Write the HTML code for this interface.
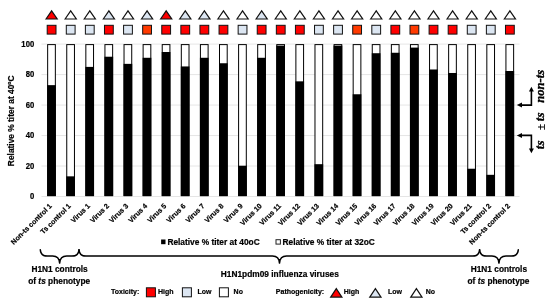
<!DOCTYPE html>
<html><head><meta charset="utf-8"><title>Relative % titer chart</title>
<style>html,body{margin:0;padding:0;background:#fff}svg{display:block}</style></head><body>
<svg width="550" height="304" viewBox="0 0 550 304">
<rect width="550" height="304" fill="#fff"/>
<line x1="41.5" x2="519.5" y1="196.50" y2="196.50" stroke="#d4d4d4" stroke-width="0.6"/>
<text transform="translate(34.2,199.25) scale(1,1.13)" font-size="7.7" text-anchor="end" font-family="Liberation Sans, Arial, sans-serif" font-weight="bold" stroke="#000" stroke-width="0.2" fill="#000">0</text>
<line x1="41.5" x2="519.5" y1="166.02" y2="166.02" stroke="#d4d4d4" stroke-width="0.6"/>
<text transform="translate(34.2,168.77) scale(1,1.13)" font-size="7.7" text-anchor="end" font-family="Liberation Sans, Arial, sans-serif" font-weight="bold" stroke="#000" stroke-width="0.2" fill="#000">20</text>
<line x1="41.5" x2="519.5" y1="135.54" y2="135.54" stroke="#d4d4d4" stroke-width="0.6"/>
<text transform="translate(34.2,138.29) scale(1,1.13)" font-size="7.7" text-anchor="end" font-family="Liberation Sans, Arial, sans-serif" font-weight="bold" stroke="#000" stroke-width="0.2" fill="#000">40</text>
<line x1="41.5" x2="519.5" y1="105.06" y2="105.06" stroke="#d4d4d4" stroke-width="0.6"/>
<text transform="translate(34.2,107.81) scale(1,1.13)" font-size="7.7" text-anchor="end" font-family="Liberation Sans, Arial, sans-serif" font-weight="bold" stroke="#000" stroke-width="0.2" fill="#000">60</text>
<line x1="41.5" x2="519.5" y1="74.58" y2="74.58" stroke="#d4d4d4" stroke-width="0.6"/>
<text transform="translate(34.2,77.33) scale(1,1.13)" font-size="7.7" text-anchor="end" font-family="Liberation Sans, Arial, sans-serif" font-weight="bold" stroke="#000" stroke-width="0.2" fill="#000">80</text>
<line x1="41.5" x2="519.5" y1="44.10" y2="44.10" stroke="#d4d4d4" stroke-width="0.6"/>
<text transform="translate(34.2,46.85) scale(1,1.13)" font-size="7.7" text-anchor="end" font-family="Liberation Sans, Arial, sans-serif" font-weight="bold" stroke="#000" stroke-width="0.2" fill="#000">100</text>
<rect x="47.65" y="44.60" width="7.70" height="151.00" fill="#fff" stroke="#000" stroke-width="1"/>
<rect x="47.15" y="85.14" width="8.70" height="110.96" fill="#000"/>
<rect x="66.75" y="44.60" width="7.70" height="151.00" fill="#fff" stroke="#000" stroke-width="1"/>
<rect x="66.25" y="176.34" width="8.70" height="19.76" fill="#000"/>
<rect x="85.84" y="44.60" width="7.70" height="151.00" fill="#fff" stroke="#000" stroke-width="1"/>
<rect x="85.34" y="66.90" width="8.70" height="129.20" fill="#000"/>
<rect x="104.94" y="44.60" width="7.70" height="151.00" fill="#fff" stroke="#000" stroke-width="1"/>
<rect x="104.44" y="56.72" width="8.70" height="139.38" fill="#000"/>
<rect x="124.03" y="44.60" width="7.70" height="151.00" fill="#fff" stroke="#000" stroke-width="1"/>
<rect x="123.53" y="63.86" width="8.70" height="132.24" fill="#000"/>
<rect x="143.12" y="44.60" width="7.70" height="151.00" fill="#fff" stroke="#000" stroke-width="1"/>
<rect x="142.62" y="57.78" width="8.70" height="138.32" fill="#000"/>
<rect x="162.22" y="44.60" width="7.70" height="151.00" fill="#fff" stroke="#000" stroke-width="1"/>
<rect x="161.72" y="52.00" width="8.70" height="144.10" fill="#000"/>
<rect x="181.31" y="44.60" width="7.70" height="151.00" fill="#fff" stroke="#000" stroke-width="1"/>
<rect x="180.81" y="66.44" width="8.70" height="129.66" fill="#000"/>
<rect x="200.41" y="44.60" width="7.70" height="151.00" fill="#fff" stroke="#000" stroke-width="1"/>
<rect x="199.91" y="57.78" width="8.70" height="138.32" fill="#000"/>
<rect x="219.50" y="44.60" width="7.70" height="151.00" fill="#fff" stroke="#000" stroke-width="1"/>
<rect x="219.00" y="63.25" width="8.70" height="132.85" fill="#000"/>
<rect x="238.60" y="44.60" width="7.70" height="151.00" fill="#fff" stroke="#000" stroke-width="1"/>
<rect x="238.10" y="165.70" width="8.70" height="30.40" fill="#000"/>
<rect x="257.69" y="44.60" width="7.70" height="151.00" fill="#fff" stroke="#000" stroke-width="1"/>
<rect x="257.19" y="57.78" width="8.70" height="138.32" fill="#000"/>
<rect x="276.79" y="44.60" width="7.70" height="151.00" fill="#fff" stroke="#000" stroke-width="1"/>
<rect x="276.29" y="45.62" width="8.70" height="150.48" fill="#000"/>
<rect x="295.88" y="44.60" width="7.70" height="151.00" fill="#fff" stroke="#000" stroke-width="1"/>
<rect x="295.38" y="81.34" width="8.70" height="114.76" fill="#000"/>
<rect x="314.98" y="44.60" width="7.70" height="151.00" fill="#fff" stroke="#000" stroke-width="1"/>
<rect x="314.48" y="164.18" width="8.70" height="31.92" fill="#000"/>
<rect x="334.07" y="44.60" width="7.70" height="151.00" fill="#fff" stroke="#000" stroke-width="1"/>
<rect x="333.57" y="45.62" width="8.70" height="150.48" fill="#000"/>
<rect x="353.17" y="44.60" width="7.70" height="151.00" fill="#fff" stroke="#000" stroke-width="1"/>
<rect x="352.67" y="94.26" width="8.70" height="101.84" fill="#000"/>
<rect x="372.26" y="44.60" width="7.70" height="151.00" fill="#fff" stroke="#000" stroke-width="1"/>
<rect x="371.76" y="53.22" width="8.70" height="142.88" fill="#000"/>
<rect x="391.36" y="44.60" width="7.70" height="151.00" fill="#fff" stroke="#000" stroke-width="1"/>
<rect x="390.86" y="52.76" width="8.70" height="143.34" fill="#000"/>
<rect x="410.45" y="44.60" width="7.70" height="151.00" fill="#fff" stroke="#000" stroke-width="1"/>
<rect x="409.95" y="47.60" width="8.70" height="148.50" fill="#000"/>
<rect x="429.55" y="44.60" width="7.70" height="151.00" fill="#fff" stroke="#000" stroke-width="1"/>
<rect x="429.05" y="69.48" width="8.70" height="126.62" fill="#000"/>
<rect x="448.64" y="44.60" width="7.70" height="151.00" fill="#fff" stroke="#000" stroke-width="1"/>
<rect x="448.14" y="72.98" width="8.70" height="123.12" fill="#000"/>
<rect x="467.74" y="44.60" width="7.70" height="151.00" fill="#fff" stroke="#000" stroke-width="1"/>
<rect x="467.24" y="168.74" width="8.70" height="27.36" fill="#000"/>
<rect x="486.83" y="44.60" width="7.70" height="151.00" fill="#fff" stroke="#000" stroke-width="1"/>
<rect x="486.33" y="174.82" width="8.70" height="21.28" fill="#000"/>
<rect x="505.93" y="44.60" width="7.70" height="151.00" fill="#fff" stroke="#000" stroke-width="1"/>
<rect x="505.43" y="71.00" width="8.70" height="125.10" fill="#000"/>
<rect x="47.20" y="25.3" width="8.8" height="8.8" fill="#ff0000" stroke="#111" stroke-width="1"/>
<path d="M46.00 19 L51.60 10.9 L57.20 19 Z" fill="#ff0000" stroke="#111" stroke-width="1.2" stroke-linejoin="miter"/>
<rect x="66.30" y="25.3" width="8.8" height="8.8" fill="#dce6f2" stroke="#111" stroke-width="1"/>
<path d="M65.09 19 L70.69 10.9 L76.30 19 Z" fill="#ffffff" stroke="#111" stroke-width="1.2" stroke-linejoin="miter"/>
<rect x="85.39" y="25.3" width="8.8" height="8.8" fill="#dce6f2" stroke="#111" stroke-width="1"/>
<path d="M84.19 19 L89.79 10.9 L95.39 19 Z" fill="#ffffff" stroke="#111" stroke-width="1.2" stroke-linejoin="miter"/>
<rect x="104.48" y="25.3" width="8.8" height="8.8" fill="#ff0000" stroke="#111" stroke-width="1"/>
<path d="M103.28 19 L108.88 10.9 L114.48 19 Z" fill="#dce6f2" stroke="#111" stroke-width="1.2" stroke-linejoin="miter"/>
<rect x="123.58" y="25.3" width="8.8" height="8.8" fill="#dce6f2" stroke="#111" stroke-width="1"/>
<path d="M122.38 19 L127.98 10.9 L133.58 19 Z" fill="#ffffff" stroke="#111" stroke-width="1.2" stroke-linejoin="miter"/>
<rect x="142.67" y="25.3" width="8.8" height="8.8" fill="#ff3a00" stroke="#111" stroke-width="1"/>
<path d="M141.47 19 L147.07 10.9 L152.67 19 Z" fill="#dce6f2" stroke="#111" stroke-width="1.2" stroke-linejoin="miter"/>
<rect x="161.77" y="25.3" width="8.8" height="8.8" fill="#ff0000" stroke="#111" stroke-width="1"/>
<path d="M160.57 19 L166.17 10.9 L171.77 19 Z" fill="#ff0000" stroke="#111" stroke-width="1.2" stroke-linejoin="miter"/>
<rect x="180.86" y="25.3" width="8.8" height="8.8" fill="#ff0000" stroke="#111" stroke-width="1"/>
<path d="M179.66 19 L185.26 10.9 L190.86 19 Z" fill="#dce6f2" stroke="#111" stroke-width="1.2" stroke-linejoin="miter"/>
<rect x="199.96" y="25.3" width="8.8" height="8.8" fill="#ff0000" stroke="#111" stroke-width="1"/>
<path d="M198.76 19 L204.36 10.9 L209.96 19 Z" fill="#dce6f2" stroke="#111" stroke-width="1.2" stroke-linejoin="miter"/>
<rect x="219.05" y="25.3" width="8.8" height="8.8" fill="#ff0000" stroke="#111" stroke-width="1"/>
<path d="M217.85 19 L223.45 10.9 L229.05 19 Z" fill="#ffffff" stroke="#111" stroke-width="1.2" stroke-linejoin="miter"/>
<rect x="238.15" y="25.3" width="8.8" height="8.8" fill="#dce6f2" stroke="#111" stroke-width="1"/>
<path d="M236.95 19 L242.55 10.9 L248.15 19 Z" fill="#ffffff" stroke="#111" stroke-width="1.2" stroke-linejoin="miter"/>
<rect x="257.24" y="25.3" width="8.8" height="8.8" fill="#ff0000" stroke="#111" stroke-width="1"/>
<path d="M256.04 19 L261.64 10.9 L267.24 19 Z" fill="#dce6f2" stroke="#111" stroke-width="1.2" stroke-linejoin="miter"/>
<rect x="276.34" y="25.3" width="8.8" height="8.8" fill="#ff0000" stroke="#111" stroke-width="1"/>
<path d="M275.14 19 L280.74 10.9 L286.34 19 Z" fill="#ffffff" stroke="#111" stroke-width="1.2" stroke-linejoin="miter"/>
<rect x="295.44" y="25.3" width="8.8" height="8.8" fill="#ff0000" stroke="#111" stroke-width="1"/>
<path d="M294.24 19 L299.84 10.9 L305.44 19 Z" fill="#ffffff" stroke="#111" stroke-width="1.2" stroke-linejoin="miter"/>
<rect x="314.53" y="25.3" width="8.8" height="8.8" fill="#dce6f2" stroke="#111" stroke-width="1"/>
<path d="M313.33 19 L318.93 10.9 L324.53 19 Z" fill="#ffffff" stroke="#111" stroke-width="1.2" stroke-linejoin="miter"/>
<rect x="333.62" y="25.3" width="8.8" height="8.8" fill="#dce6f2" stroke="#111" stroke-width="1"/>
<path d="M332.42 19 L338.02 10.9 L343.62 19 Z" fill="#ffffff" stroke="#111" stroke-width="1.2" stroke-linejoin="miter"/>
<rect x="352.72" y="25.3" width="8.8" height="8.8" fill="#ff3a00" stroke="#111" stroke-width="1"/>
<path d="M351.52 19 L357.12 10.9 L362.72 19 Z" fill="#ffffff" stroke="#111" stroke-width="1.2" stroke-linejoin="miter"/>
<rect x="371.81" y="25.3" width="8.8" height="8.8" fill="#dce6f2" stroke="#111" stroke-width="1"/>
<path d="M370.62 19 L376.22 10.9 L381.81 19 Z" fill="#ffffff" stroke="#111" stroke-width="1.2" stroke-linejoin="miter"/>
<rect x="390.91" y="25.3" width="8.8" height="8.8" fill="#ff0000" stroke="#111" stroke-width="1"/>
<path d="M389.71 19 L395.31 10.9 L400.91 19 Z" fill="#ffffff" stroke="#111" stroke-width="1.2" stroke-linejoin="miter"/>
<rect x="410.00" y="25.3" width="8.8" height="8.8" fill="#ff3a00" stroke="#111" stroke-width="1"/>
<path d="M408.80 19 L414.40 10.9 L420.00 19 Z" fill="#ffffff" stroke="#111" stroke-width="1.2" stroke-linejoin="miter"/>
<rect x="429.10" y="25.3" width="8.8" height="8.8" fill="#ff0000" stroke="#111" stroke-width="1"/>
<path d="M427.90 19 L433.50 10.9 L439.10 19 Z" fill="#ffffff" stroke="#111" stroke-width="1.2" stroke-linejoin="miter"/>
<rect x="448.19" y="25.3" width="8.8" height="8.8" fill="#ff0000" stroke="#111" stroke-width="1"/>
<path d="M447.00 19 L452.60 10.9 L458.19 19 Z" fill="#ffffff" stroke="#111" stroke-width="1.2" stroke-linejoin="miter"/>
<rect x="467.29" y="25.3" width="8.8" height="8.8" fill="#dce6f2" stroke="#111" stroke-width="1"/>
<path d="M466.09 19 L471.69 10.9 L477.29 19 Z" fill="#ffffff" stroke="#111" stroke-width="1.2" stroke-linejoin="miter"/>
<rect x="486.38" y="25.3" width="8.8" height="8.8" fill="#dce6f2" stroke="#111" stroke-width="1"/>
<path d="M485.18 19 L490.78 10.9 L496.38 19 Z" fill="#ffffff" stroke="#111" stroke-width="1.2" stroke-linejoin="miter"/>
<rect x="505.48" y="25.3" width="8.8" height="8.8" fill="#ff0000" stroke="#111" stroke-width="1"/>
<path d="M504.28 19 L509.88 10.9 L515.48 19 Z" fill="#ffffff" stroke="#111" stroke-width="1.2" stroke-linejoin="miter"/>
<text transform="translate(52.30,206.5) rotate(-45)" font-size="7.1" text-anchor="end" font-family="Liberation Sans, Arial, sans-serif" font-weight="bold" stroke="#000" stroke-width="0.2" fill="#000">Non-ts control 1</text>
<text transform="translate(71.39,206.5) rotate(-45)" font-size="7.1" text-anchor="end" font-family="Liberation Sans, Arial, sans-serif" font-weight="bold" stroke="#000" stroke-width="0.2" fill="#000">Ts control 1</text>
<text transform="translate(90.49,206.5) rotate(-45)" font-size="7.1" text-anchor="end" font-family="Liberation Sans, Arial, sans-serif" font-weight="bold" stroke="#000" stroke-width="0.2" fill="#000">Virus 1</text>
<text transform="translate(109.58,206.5) rotate(-45)" font-size="7.1" text-anchor="end" font-family="Liberation Sans, Arial, sans-serif" font-weight="bold" stroke="#000" stroke-width="0.2" fill="#000">Virus 2</text>
<text transform="translate(128.68,206.5) rotate(-45)" font-size="7.1" text-anchor="end" font-family="Liberation Sans, Arial, sans-serif" font-weight="bold" stroke="#000" stroke-width="0.2" fill="#000">Virus 3</text>
<text transform="translate(147.78,206.5) rotate(-45)" font-size="7.1" text-anchor="end" font-family="Liberation Sans, Arial, sans-serif" font-weight="bold" stroke="#000" stroke-width="0.2" fill="#000">Virus 4</text>
<text transform="translate(166.87,206.5) rotate(-45)" font-size="7.1" text-anchor="end" font-family="Liberation Sans, Arial, sans-serif" font-weight="bold" stroke="#000" stroke-width="0.2" fill="#000">Virus 5</text>
<text transform="translate(185.97,206.5) rotate(-45)" font-size="7.1" text-anchor="end" font-family="Liberation Sans, Arial, sans-serif" font-weight="bold" stroke="#000" stroke-width="0.2" fill="#000">Virus 6</text>
<text transform="translate(205.06,206.5) rotate(-45)" font-size="7.1" text-anchor="end" font-family="Liberation Sans, Arial, sans-serif" font-weight="bold" stroke="#000" stroke-width="0.2" fill="#000">Virus 7</text>
<text transform="translate(224.16,206.5) rotate(-45)" font-size="7.1" text-anchor="end" font-family="Liberation Sans, Arial, sans-serif" font-weight="bold" stroke="#000" stroke-width="0.2" fill="#000">Virus 8</text>
<text transform="translate(243.25,206.5) rotate(-45)" font-size="7.1" text-anchor="end" font-family="Liberation Sans, Arial, sans-serif" font-weight="bold" stroke="#000" stroke-width="0.2" fill="#000">Virus 9</text>
<text transform="translate(262.34,206.5) rotate(-45)" font-size="7.1" text-anchor="end" font-family="Liberation Sans, Arial, sans-serif" font-weight="bold" stroke="#000" stroke-width="0.2" fill="#000">Virus 10</text>
<text transform="translate(281.44,206.5) rotate(-45)" font-size="7.1" text-anchor="end" font-family="Liberation Sans, Arial, sans-serif" font-weight="bold" stroke="#000" stroke-width="0.2" fill="#000">Virus 11</text>
<text transform="translate(300.54,206.5) rotate(-45)" font-size="7.1" text-anchor="end" font-family="Liberation Sans, Arial, sans-serif" font-weight="bold" stroke="#000" stroke-width="0.2" fill="#000">Virus 12</text>
<text transform="translate(319.63,206.5) rotate(-45)" font-size="7.1" text-anchor="end" font-family="Liberation Sans, Arial, sans-serif" font-weight="bold" stroke="#000" stroke-width="0.2" fill="#000">Virus 13</text>
<text transform="translate(338.72,206.5) rotate(-45)" font-size="7.1" text-anchor="end" font-family="Liberation Sans, Arial, sans-serif" font-weight="bold" stroke="#000" stroke-width="0.2" fill="#000">Virus 14</text>
<text transform="translate(357.82,206.5) rotate(-45)" font-size="7.1" text-anchor="end" font-family="Liberation Sans, Arial, sans-serif" font-weight="bold" stroke="#000" stroke-width="0.2" fill="#000">Virus 15</text>
<text transform="translate(376.92,206.5) rotate(-45)" font-size="7.1" text-anchor="end" font-family="Liberation Sans, Arial, sans-serif" font-weight="bold" stroke="#000" stroke-width="0.2" fill="#000">Virus 16</text>
<text transform="translate(396.01,206.5) rotate(-45)" font-size="7.1" text-anchor="end" font-family="Liberation Sans, Arial, sans-serif" font-weight="bold" stroke="#000" stroke-width="0.2" fill="#000">Virus 17</text>
<text transform="translate(415.10,206.5) rotate(-45)" font-size="7.1" text-anchor="end" font-family="Liberation Sans, Arial, sans-serif" font-weight="bold" stroke="#000" stroke-width="0.2" fill="#000">Virus 18</text>
<text transform="translate(434.20,206.5) rotate(-45)" font-size="7.1" text-anchor="end" font-family="Liberation Sans, Arial, sans-serif" font-weight="bold" stroke="#000" stroke-width="0.2" fill="#000">Virus 19</text>
<text transform="translate(453.30,206.5) rotate(-45)" font-size="7.1" text-anchor="end" font-family="Liberation Sans, Arial, sans-serif" font-weight="bold" stroke="#000" stroke-width="0.2" fill="#000">Virus 20</text>
<text transform="translate(472.39,206.5) rotate(-45)" font-size="7.1" text-anchor="end" font-family="Liberation Sans, Arial, sans-serif" font-weight="bold" stroke="#000" stroke-width="0.2" fill="#000">Virus 21</text>
<text transform="translate(491.48,206.5) rotate(-45)" font-size="7.1" text-anchor="end" font-family="Liberation Sans, Arial, sans-serif" font-weight="bold" stroke="#000" stroke-width="0.2" fill="#000">Ts control 2</text>
<text transform="translate(510.58,206.5) rotate(-45)" font-size="7.1" text-anchor="end" font-family="Liberation Sans, Arial, sans-serif" font-weight="bold" stroke="#000" stroke-width="0.2" fill="#000">Non-ts control 2</text>
<text transform="translate(14.4,120.8) rotate(-90)" font-size="8.4" text-anchor="middle" font-family="Liberation Sans, Arial, sans-serif" font-weight="bold" stroke="#000" stroke-width="0.2" fill="#000">Relative % titer at 40<tspan font-size="5.2" dy="-3">o</tspan><tspan dy="3">C</tspan></text>
<rect x="161.1" y="239.5" width="4.4" height="4.7" fill="#000"/>
<text x="167.4" y="244.5" font-size="8.35" font-family="Liberation Sans, Arial, sans-serif" font-weight="bold" stroke="#000" stroke-width="0.2" fill="#000">Relative % titer at 40oC</text>
<rect x="276.0" y="239.7" width="4.4" height="4.4" fill="#fff" stroke="#222" stroke-width="1"/>
<text x="282.5" y="244.5" font-size="8.35" font-family="Liberation Sans, Arial, sans-serif" font-weight="bold" stroke="#000" stroke-width="0.2" fill="#000">Relative % titer at 32oC</text>
<path d="M40.30 249.80 C40.60 254.00 42.90 256.10 47.30 256.10 L52.65 256.10 C57.05 256.10 59.35 258.50 59.65 263.10 C59.95 258.50 62.25 256.10 66.65 256.10 L72.00 256.10 C76.40 256.10 78.70 254.00 79.00 249.80" fill="none" stroke="#000" stroke-width="1.5" stroke-linecap="round" stroke-linejoin="round"/>
<path d="M79.00 249.80 C79.30 254.00 81.60 256.10 86.00 256.10 L272.50 256.10 C276.90 256.10 279.20 258.50 279.50 263.10 C279.80 258.50 282.10 256.10 286.50 256.10 L472.60 256.10 C477.00 256.10 479.30 254.00 479.60 249.80" fill="none" stroke="#000" stroke-width="1.5" stroke-linecap="round" stroke-linejoin="round"/>
<path d="M479.60 249.80 C479.90 254.00 482.20 256.10 486.60 256.10 L491.95 256.10 C496.35 256.10 498.65 258.50 498.95 263.10 C499.25 258.50 501.55 256.10 505.95 256.10 L511.30 256.10 C515.70 256.10 518.00 254.00 518.30 249.80" fill="none" stroke="#000" stroke-width="1.5" stroke-linecap="round" stroke-linejoin="round"/>
<text x="59.60" y="272.30" font-size="8.20" text-anchor="middle" font-family="Liberation Sans, Arial, sans-serif" font-weight="bold" stroke="#000" stroke-width="0.2" fill="#000" textLength="56.3" lengthAdjust="spacingAndGlyphs">H1N1 controls</text>
<text x="59.20" y="283.70" font-size="8.20" text-anchor="middle" font-family="Liberation Sans, Arial, sans-serif" font-weight="bold" stroke="#000" stroke-width="0.2" fill="#000" textLength="62.0" lengthAdjust="spacingAndGlyphs">of <tspan font-style="italic">ts</tspan> phenotype</text>
<text x="498.90" y="272.30" font-size="8.20" text-anchor="middle" font-family="Liberation Sans, Arial, sans-serif" font-weight="bold" stroke="#000" stroke-width="0.2" fill="#000" textLength="56.3" lengthAdjust="spacingAndGlyphs">H1N1 controls</text>
<text x="498.50" y="283.70" font-size="8.20" text-anchor="middle" font-family="Liberation Sans, Arial, sans-serif" font-weight="bold" stroke="#000" stroke-width="0.2" fill="#000" textLength="62.0" lengthAdjust="spacingAndGlyphs">of <tspan font-style="italic">ts</tspan> phenotype</text>
<text x="279.80" y="276.60" font-size="8.20" text-anchor="middle" font-family="Liberation Sans, Arial, sans-serif" font-weight="bold" stroke="#000" stroke-width="0.2" fill="#000" textLength="118.0" lengthAdjust="spacingAndGlyphs">H1N1pdm09 influenza viruses</text>
<text x="111.00" y="294.00" font-size="7.00" text-anchor="start" font-family="Liberation Sans, Arial, sans-serif" font-weight="bold" stroke="#000" stroke-width="0.2" fill="#000">Toxicity:</text>
<rect x="146.4" y="287.8" width="9" height="9" fill="#ff0000" stroke="#111" stroke-width="1"/>
<text x="158.00" y="294.00" font-size="7.00" text-anchor="start" font-family="Liberation Sans, Arial, sans-serif" font-weight="bold" stroke="#000" stroke-width="0.2" fill="#000">High</text>
<rect x="182.4" y="287.8" width="9" height="9" fill="#dce6f2" stroke="#111" stroke-width="1"/>
<text x="197.50" y="294.00" font-size="7.00" text-anchor="start" font-family="Liberation Sans, Arial, sans-serif" font-weight="bold" stroke="#000" stroke-width="0.2" fill="#000">Low</text>
<rect x="219.4" y="287.8" width="9" height="9" fill="#fff" stroke="#111" stroke-width="1"/>
<text x="233.60" y="294.00" font-size="7.00" text-anchor="start" font-family="Liberation Sans, Arial, sans-serif" font-weight="bold" stroke="#000" stroke-width="0.2" fill="#000">No</text>
<text x="275.80" y="294.00" font-size="7.00" text-anchor="start" font-family="Liberation Sans, Arial, sans-serif" font-weight="bold" stroke="#000" stroke-width="0.2" fill="#000" textLength="48.4" lengthAdjust="spacingAndGlyphs">Pathogenicity:</text>
<path d="M330.70 297.1 L336.30 288.7 L341.90 297.1 Z" fill="#ff0000" stroke="#111" stroke-width="1.2"/>
<text x="343.80" y="294.00" font-size="7.00" text-anchor="start" font-family="Liberation Sans, Arial, sans-serif" font-weight="bold" stroke="#000" stroke-width="0.2" fill="#000">High</text>
<path d="M369.80 297.1 L375.40 288.7 L381.00 297.1 Z" fill="#dce6f2" stroke="#111" stroke-width="1.2"/>
<text x="388.00" y="294.00" font-size="7.00" text-anchor="start" font-family="Liberation Sans, Arial, sans-serif" font-weight="bold" stroke="#000" stroke-width="0.2" fill="#000">Low</text>
<path d="M410.80 297.1 L416.40 288.7 L422.00 297.1 Z" fill="#ffffff" stroke="#111" stroke-width="1.2"/>
<text x="425.80" y="294.00" font-size="7.00" text-anchor="start" font-family="Liberation Sans, Arial, sans-serif" font-weight="bold" stroke="#000" stroke-width="0.2" fill="#000">No</text>
<path d="M521 105.1 L531.4 105.1 L531.4 90.5" stroke="#000" stroke-width="1.6" fill="none"/>
<path d="M516.8 105.1 l5.2 -2.5 v5 z" fill="#000"/>
<path d="M531.4 86.8 l-2.5 4.8 h5 z" fill="#000"/>
<path d="M521 135.4 L531.4 135.4 L531.4 149.5" stroke="#000" stroke-width="1.6" fill="none"/>
<path d="M516.8 135.4 l5.2 -2.5 v5 z" fill="#000"/>
<path d="M531.4 153.2 l-2.5 -4.8 h5 z" fill="#000"/>
<text transform="translate(544.3,86.3) rotate(-90)" font-size="12.6" text-anchor="middle" font-family="Liberation Serif, Times New Roman, serif" font-weight="bold" font-style="italic" stroke="#000" stroke-width="0.35" fill="#000">non-ts</text>
<text transform="translate(544.3,116.9) rotate(-90)" font-size="13" text-anchor="middle" font-family="Liberation Serif, Times New Roman, serif" font-weight="bold" font-style="italic" stroke="#000" stroke-width="0.35" fill="#000">ts</text>
<text transform="translate(544.8,127) rotate(-90)" font-size="12" text-anchor="middle" font-family="Liberation Serif, serif" font-weight="bold" fill="#000">±</text>
<text transform="translate(544.3,144.8) rotate(-90)" font-size="13" text-anchor="middle" font-family="Liberation Serif, Times New Roman, serif" font-weight="bold" font-style="italic" stroke="#000" stroke-width="0.35" fill="#000">ts</text>
</svg></body></html>
